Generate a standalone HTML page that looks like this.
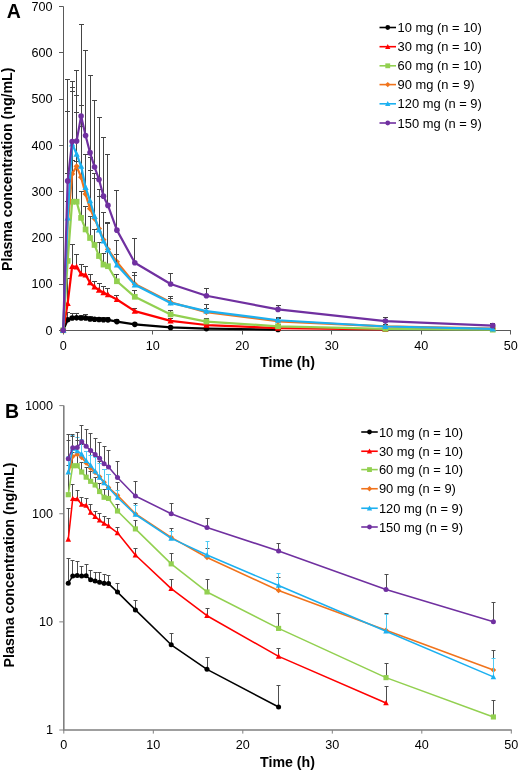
<!DOCTYPE html>
<html><head><meta charset="utf-8"><title>Plasma concentration</title>
<style>
html,body{margin:0;padding:0;background:#fff}
svg{display:block}
text{font-family:"Liberation Sans",Arial,sans-serif;fill:#000}
.tk{font-size:12.6px}
.lg{font-size:12.9px}
.ti{font-size:14.2px;font-weight:bold}
.pl{font-size:19.5px;font-weight:bold}
</style></head><body>
<svg width="520" height="771" viewBox="0 0 520 771">
<rect width="520" height="771" fill="#fff"/>
<path d="M63.5 6.5V330.5H511" stroke="#595959" stroke-width="1" fill="none"/>
<path d="M59 330.5H63.5" stroke="#595959" stroke-width="1"/>
<text x="52.5" y="334.70" text-anchor="end" class="tk">0</text>
<path d="M59 284.5H63.5" stroke="#595959" stroke-width="1"/>
<text x="52.5" y="288.44" text-anchor="end" class="tk">100</text>
<path d="M59 237.5H63.5" stroke="#595959" stroke-width="1"/>
<text x="52.5" y="242.18" text-anchor="end" class="tk">200</text>
<path d="M59 191.5H63.5" stroke="#595959" stroke-width="1"/>
<text x="52.5" y="195.92" text-anchor="end" class="tk">300</text>
<path d="M59 145.5H63.5" stroke="#595959" stroke-width="1"/>
<text x="52.5" y="149.66" text-anchor="end" class="tk">400</text>
<path d="M59 99.5H63.5" stroke="#595959" stroke-width="1"/>
<text x="52.5" y="103.40" text-anchor="end" class="tk">500</text>
<path d="M59 52.5H63.5" stroke="#595959" stroke-width="1"/>
<text x="52.5" y="57.14" text-anchor="end" class="tk">600</text>
<path d="M59 6.5H63.5" stroke="#595959" stroke-width="1"/>
<text x="52.5" y="10.88" text-anchor="end" class="tk">700</text>
<path d="M63.5 330.5V334.5" stroke="#595959" stroke-width="1"/>
<text x="63.20" y="350" text-anchor="middle" class="tk">0</text>
<path d="M152.5 330.5V334.5" stroke="#595959" stroke-width="1"/>
<text x="152.70" y="350" text-anchor="middle" class="tk">10</text>
<path d="M242.5 330.5V334.5" stroke="#595959" stroke-width="1"/>
<text x="242.20" y="350" text-anchor="middle" class="tk">20</text>
<path d="M331.5 330.5V334.5" stroke="#595959" stroke-width="1"/>
<text x="331.70" y="350" text-anchor="middle" class="tk">30</text>
<path d="M421.5 330.5V334.5" stroke="#595959" stroke-width="1"/>
<text x="421.20" y="350" text-anchor="middle" class="tk">40</text>
<path d="M510.5 330.5V334.5" stroke="#595959" stroke-width="1"/>
<text x="510.70" y="350" text-anchor="middle" class="tk">50</text>
<path d="M67.5 319.75V312.5M65.0 312.5H70.0" stroke="#454545" stroke-width="1" fill="none"/>
<path d="M72.5 318.04V313.5M70.0 313.5H75.0" stroke="#454545" stroke-width="1" fill="none"/>
<path d="M76.5 317.86V313.5M74.0 313.5H79.0" stroke="#454545" stroke-width="1" fill="none"/>
<path d="M81.5 318.04V315.5M79.0 315.5H84.0" stroke="#454545" stroke-width="1" fill="none"/>
<path d="M85.5 317.95V314.5M83.0 314.5H88.0" stroke="#454545" stroke-width="1" fill="none"/>
<path d="M90.5 318.97V316.5M88.0 316.5H93.0" stroke="#454545" stroke-width="1" fill="none"/>
<path d="M94.5 319.24V317.5M92.0 317.5H97.0" stroke="#454545" stroke-width="1" fill="none"/>
<path d="M99.5 319.57V317.5M97.0 317.5H102.0" stroke="#454545" stroke-width="1" fill="none"/>
<path d="M103.5 319.80V317.5M101.0 317.5H106.0" stroke="#454545" stroke-width="1" fill="none"/>
<path d="M107.5 319.85V317.5M105.0 317.5H110.0" stroke="#454545" stroke-width="1" fill="none"/>
<path d="M116.5 321.58V319.5M114.0 319.5H119.0" stroke="#454545" stroke-width="1" fill="none"/>
<path d="M134.5 324.33V323.5M132.0 323.5H137.0" stroke="#454545" stroke-width="1" fill="none"/>
<path d="M170.5 327.46V326.5M168.0 326.5H173.0" stroke="#454545" stroke-width="1" fill="none"/>
<polyline points="63.20,330.30 67.67,319.75 72.15,318.04 76.62,317.86 81.10,318.04 85.58,317.95 90.05,318.97 94.53,319.24 99.00,319.57 103.47,319.80 107.95,319.85 116.90,321.58 134.80,324.33 170.60,327.46 206.40,328.62 278.00,329.55" fill="none" stroke="#000000" stroke-width="2.2" stroke-linejoin="round"/>
<circle cx="63.20" cy="330.30" r="2.80" fill="#000000"/>
<circle cx="67.67" cy="319.75" r="2.80" fill="#000000"/>
<circle cx="72.15" cy="318.04" r="2.80" fill="#000000"/>
<circle cx="76.62" cy="317.86" r="2.80" fill="#000000"/>
<circle cx="81.10" cy="318.04" r="2.80" fill="#000000"/>
<circle cx="85.58" cy="317.95" r="2.80" fill="#000000"/>
<circle cx="90.05" cy="318.97" r="2.80" fill="#000000"/>
<circle cx="94.53" cy="319.24" r="2.80" fill="#000000"/>
<circle cx="99.00" cy="319.57" r="2.80" fill="#000000"/>
<circle cx="103.47" cy="319.80" r="2.80" fill="#000000"/>
<circle cx="107.95" cy="319.85" r="2.80" fill="#000000"/>
<circle cx="116.90" cy="321.58" r="2.80" fill="#000000"/>
<circle cx="134.80" cy="324.33" r="2.80" fill="#000000"/>
<circle cx="170.60" cy="327.46" r="2.80" fill="#000000"/>
<circle cx="206.40" cy="328.62" r="2.80" fill="#000000"/>
<circle cx="278.00" cy="329.55" r="2.80" fill="#000000"/>
<path d="M67.5 303.47V278.5M65.0 278.5H70.0" stroke="#454545" stroke-width="1" fill="none"/>
<path d="M72.5 266.46V244.5M70.0 244.5H75.0" stroke="#454545" stroke-width="1" fill="none"/>
<path d="M76.5 266.92V254.5M74.0 254.5H79.0" stroke="#454545" stroke-width="1" fill="none"/>
<path d="M81.5 273.86V264.5M79.0 264.5H84.0" stroke="#454545" stroke-width="1" fill="none"/>
<path d="M85.5 275.02V266.5M83.0 266.5H88.0" stroke="#454545" stroke-width="1" fill="none"/>
<path d="M90.5 282.65V274.5M88.0 274.5H93.0" stroke="#454545" stroke-width="1" fill="none"/>
<path d="M94.5 286.82V281.5M92.0 281.5H97.0" stroke="#454545" stroke-width="1" fill="none"/>
<path d="M99.5 290.05V283.5M97.0 283.5H102.0" stroke="#454545" stroke-width="1" fill="none"/>
<path d="M103.5 292.60V286.5M101.0 286.5H106.0" stroke="#454545" stroke-width="1" fill="none"/>
<path d="M107.5 294.68V288.5M105.0 288.5H110.0" stroke="#454545" stroke-width="1" fill="none"/>
<path d="M116.5 299.49V295.5M114.0 295.5H119.0" stroke="#454545" stroke-width="1" fill="none"/>
<path d="M134.5 311.10V308.5M132.0 308.5H137.0" stroke="#454545" stroke-width="1" fill="none"/>
<path d="M170.5 320.91V318.5M168.0 318.5H173.0" stroke="#454545" stroke-width="1" fill="none"/>
<path d="M206.5 325.03V324.5M204.0 324.5H209.0" stroke="#454545" stroke-width="1" fill="none"/>
<polyline points="63.20,330.30 67.67,303.47 72.15,266.46 76.62,266.92 81.10,273.86 85.58,275.02 90.05,282.65 94.53,286.82 99.00,290.05 103.47,292.60 107.95,294.68 116.90,299.49 134.80,311.10 170.60,320.91 206.40,325.03 278.00,328.08 385.40,329.48" fill="none" stroke="#ff0000" stroke-width="2.2" stroke-linejoin="round"/>
<path d="M63.20 327.00L66.30 332.90L60.10 332.90Z" fill="#ff0000"/>
<path d="M67.67 300.17L70.77 306.07L64.58 306.07Z" fill="#ff0000"/>
<path d="M72.15 263.16L75.25 269.06L69.05 269.06Z" fill="#ff0000"/>
<path d="M76.62 263.62L79.72 269.52L73.53 269.52Z" fill="#ff0000"/>
<path d="M81.10 270.56L84.20 276.46L78.00 276.46Z" fill="#ff0000"/>
<path d="M85.58 271.72L88.67 277.62L82.48 277.62Z" fill="#ff0000"/>
<path d="M90.05 279.35L93.15 285.25L86.95 285.25Z" fill="#ff0000"/>
<path d="M94.53 283.52L97.62 289.42L91.43 289.42Z" fill="#ff0000"/>
<path d="M99.00 286.75L102.10 292.65L95.90 292.65Z" fill="#ff0000"/>
<path d="M103.47 289.30L106.57 295.20L100.38 295.20Z" fill="#ff0000"/>
<path d="M107.95 291.38L111.05 297.28L104.85 297.28Z" fill="#ff0000"/>
<path d="M116.90 296.19L120.00 302.09L113.80 302.09Z" fill="#ff0000"/>
<path d="M134.80 307.80L137.90 313.70L131.70 313.70Z" fill="#ff0000"/>
<path d="M170.60 317.61L173.70 323.51L167.50 323.51Z" fill="#ff0000"/>
<path d="M206.40 321.73L209.50 327.63L203.30 327.63Z" fill="#ff0000"/>
<path d="M278.00 324.78L281.10 330.68L274.90 330.68Z" fill="#ff0000"/>
<path d="M385.40 326.18L388.50 332.08L382.30 332.08Z" fill="#ff0000"/>
<path d="M67.5 260.91V201.5M65.0 201.5H70.0" stroke="#454545" stroke-width="1" fill="none"/>
<path d="M72.5 201.70V160.5M70.0 160.5H75.0" stroke="#454545" stroke-width="1" fill="none"/>
<path d="M76.5 201.70V161.5M74.0 161.5H79.0" stroke="#454545" stroke-width="1" fill="none"/>
<path d="M81.5 217.89V191.5M79.0 191.5H84.0" stroke="#454545" stroke-width="1" fill="none"/>
<path d="M85.5 229.45V206.5M83.0 206.5H88.0" stroke="#454545" stroke-width="1" fill="none"/>
<path d="M90.5 238.01V216.5M88.0 216.5H93.0" stroke="#454545" stroke-width="1" fill="none"/>
<path d="M94.5 244.95V229.5M92.0 229.5H97.0" stroke="#454545" stroke-width="1" fill="none"/>
<path d="M99.5 256.05V242.5M97.0 242.5H102.0" stroke="#454545" stroke-width="1" fill="none"/>
<path d="M103.5 264.61V253.5M101.0 253.5H106.0" stroke="#454545" stroke-width="1" fill="none"/>
<path d="M107.5 266.23V251.5M105.0 251.5H110.0" stroke="#454545" stroke-width="1" fill="none"/>
<path d="M116.5 281.26V274.5M114.0 274.5H119.0" stroke="#454545" stroke-width="1" fill="none"/>
<path d="M134.5 296.81V290.5M132.0 290.5H137.0" stroke="#454545" stroke-width="1" fill="none"/>
<path d="M170.5 314.39V310.5M168.0 310.5H173.0" stroke="#454545" stroke-width="1" fill="none"/>
<path d="M206.5 321.56V318.5M204.0 318.5H209.0" stroke="#454545" stroke-width="1" fill="none"/>
<path d="M278.5 326.28V324.5M276.0 324.5H281.0" stroke="#454545" stroke-width="1" fill="none"/>
<polyline points="63.20,330.30 67.67,260.91 72.15,201.70 76.62,201.70 81.10,217.89 85.58,229.45 90.05,238.01 94.53,244.95 99.00,256.05 103.47,264.61 107.95,266.23 116.90,281.26 134.80,296.81 170.60,314.39 206.40,321.56 278.00,326.28 385.40,328.89 492.80,329.69" fill="none" stroke="#92d050" stroke-width="2.2" stroke-linejoin="round"/>
<rect x="60.35" y="327.45" width="5.70" height="5.70" fill="#92d050"/>
<rect x="64.83" y="258.06" width="5.70" height="5.70" fill="#92d050"/>
<rect x="69.30" y="198.85" width="5.70" height="5.70" fill="#92d050"/>
<rect x="73.78" y="198.85" width="5.70" height="5.70" fill="#92d050"/>
<rect x="78.25" y="215.04" width="5.70" height="5.70" fill="#92d050"/>
<rect x="82.73" y="226.60" width="5.70" height="5.70" fill="#92d050"/>
<rect x="87.20" y="235.16" width="5.70" height="5.70" fill="#92d050"/>
<rect x="91.68" y="242.10" width="5.70" height="5.70" fill="#92d050"/>
<rect x="96.15" y="253.20" width="5.70" height="5.70" fill="#92d050"/>
<rect x="100.62" y="261.76" width="5.70" height="5.70" fill="#92d050"/>
<rect x="105.10" y="263.38" width="5.70" height="5.70" fill="#92d050"/>
<rect x="114.05" y="278.41" width="5.70" height="5.70" fill="#92d050"/>
<rect x="131.95" y="293.96" width="5.70" height="5.70" fill="#92d050"/>
<rect x="167.75" y="311.54" width="5.70" height="5.70" fill="#92d050"/>
<rect x="203.55" y="318.71" width="5.70" height="5.70" fill="#92d050"/>
<rect x="275.15" y="323.43" width="5.70" height="5.70" fill="#92d050"/>
<rect x="382.55" y="326.04" width="5.70" height="5.70" fill="#92d050"/>
<rect x="489.95" y="326.84" width="5.70" height="5.70" fill="#92d050"/>
<path d="M67.5 224.83V111.5M65.0 111.5H70.0" stroke="#454545" stroke-width="1" fill="none"/>
<path d="M72.5 173.94V91.5M70.0 91.5H75.0" stroke="#454545" stroke-width="1" fill="none"/>
<path d="M76.5 166.31V112.5M74.0 112.5H79.0" stroke="#454545" stroke-width="1" fill="none"/>
<path d="M81.5 177.18V126.5M79.0 126.5H84.0" stroke="#454545" stroke-width="1" fill="none"/>
<path d="M85.5 194.06V154.5M83.0 154.5H88.0" stroke="#454545" stroke-width="1" fill="none"/>
<path d="M90.5 208.64V157.5M88.0 157.5H93.0" stroke="#454545" stroke-width="1" fill="none"/>
<path d="M94.5 218.58V173.5M92.0 173.5H97.0" stroke="#454545" stroke-width="1" fill="none"/>
<path d="M99.5 228.53V189.5M97.0 189.5H102.0" stroke="#454545" stroke-width="1" fill="none"/>
<path d="M103.5 239.63V212.5M101.0 212.5H106.0" stroke="#454545" stroke-width="1" fill="none"/>
<path d="M107.5 249.35V222.5M105.0 222.5H110.0" stroke="#454545" stroke-width="1" fill="none"/>
<path d="M116.5 261.84V240.5M114.0 240.5H119.0" stroke="#454545" stroke-width="1" fill="none"/>
<path d="M134.5 284.04V272.5M132.0 272.5H137.0" stroke="#454545" stroke-width="1" fill="none"/>
<path d="M170.5 302.31V296.5M168.0 296.5H173.0" stroke="#454545" stroke-width="1" fill="none"/>
<path d="M206.5 312.07V308.5M204.0 308.5H209.0" stroke="#454545" stroke-width="1" fill="none"/>
<path d="M278.5 321.28V318.5M276.0 318.5H281.0" stroke="#454545" stroke-width="1" fill="none"/>
<path d="M385.5 326.44V324.5M383.0 324.5H388.0" stroke="#454545" stroke-width="1" fill="none"/>
<path d="M492.5 328.64V327.5M490.0 327.5H495.0" stroke="#454545" stroke-width="1" fill="none"/>
<polyline points="63.20,330.30 67.67,224.83 72.15,173.94 76.62,166.31 81.10,177.18 85.58,194.06 90.05,208.64 94.53,218.58 99.00,228.53 103.47,239.63 107.95,249.35 116.90,261.84 134.80,284.04 170.60,302.31 206.40,312.07 278.00,321.28 385.40,326.44 492.80,328.64" fill="none" stroke="#f0731c" stroke-width="2.2" stroke-linejoin="round"/>
<path d="M63.20 327.20L66.30 330.30L63.20 333.40L60.10 330.30Z" fill="#f0731c"/>
<path d="M72.15 170.84L75.25 173.94L72.15 177.04L69.05 173.94Z" fill="#f0731c"/>
<path d="M76.62 163.21L79.72 166.31L76.62 169.41L73.53 166.31Z" fill="#f0731c"/>
<path d="M81.10 174.08L84.20 177.18L81.10 180.28L78.00 177.18Z" fill="#f0731c"/>
<path d="M85.58 190.96L88.67 194.06L85.58 197.16L82.48 194.06Z" fill="#f0731c"/>
<path d="M90.05 205.54L93.15 208.64L90.05 211.74L86.95 208.64Z" fill="#f0731c"/>
<path d="M94.53 215.48L97.62 218.58L94.53 221.68L91.43 218.58Z" fill="#f0731c"/>
<path d="M99.00 225.43L102.10 228.53L99.00 231.63L95.90 228.53Z" fill="#f0731c"/>
<path d="M103.47 236.53L106.57 239.63L103.47 242.73L100.38 239.63Z" fill="#f0731c"/>
<path d="M107.95 246.25L111.05 249.35L107.95 252.45L104.85 249.35Z" fill="#f0731c"/>
<path d="M116.90 258.74L120.00 261.84L116.90 264.94L113.80 261.84Z" fill="#f0731c"/>
<path d="M134.80 280.94L137.90 284.04L134.80 287.14L131.70 284.04Z" fill="#f0731c"/>
<path d="M170.60 299.21L173.70 302.31L170.60 305.41L167.50 302.31Z" fill="#f0731c"/>
<path d="M206.40 308.97L209.50 312.07L206.40 315.17L203.30 312.07Z" fill="#f0731c"/>
<path d="M278.00 318.18L281.10 321.28L278.00 324.38L274.90 321.28Z" fill="#f0731c"/>
<path d="M385.40 323.34L388.50 326.44L385.40 329.54L382.30 326.44Z" fill="#f0731c"/>
<path d="M492.80 325.54L495.90 328.64L492.80 331.74L489.70 328.64Z" fill="#f0731c"/>
<path d="M67.5 217.89V173.5M65.0 173.5H70.0" stroke="#454545" stroke-width="1" fill="none"/>
<path d="M72.5 143.87V87.5M70.0 87.5H75.0" stroke="#454545" stroke-width="1" fill="none"/>
<path d="M76.5 154.05V95.5M74.0 95.5H79.0" stroke="#454545" stroke-width="1" fill="none"/>
<path d="M81.5 166.08V105.5M79.0 105.5H84.0" stroke="#454545" stroke-width="1" fill="none"/>
<path d="M85.5 187.36V154.5M83.0 154.5H88.0" stroke="#454545" stroke-width="1" fill="none"/>
<path d="M90.5 200.77V170.5M88.0 170.5H93.0" stroke="#454545" stroke-width="1" fill="none"/>
<path d="M94.5 216.04V178.5M92.0 178.5H97.0" stroke="#454545" stroke-width="1" fill="none"/>
<path d="M99.5 229.92V196.5M97.0 196.5H102.0" stroke="#454545" stroke-width="1" fill="none"/>
<path d="M103.5 241.02V212.5M101.0 212.5H106.0" stroke="#454545" stroke-width="1" fill="none"/>
<path d="M107.5 249.81V223.5M105.0 223.5H110.0" stroke="#454545" stroke-width="1" fill="none"/>
<path d="M116.5 264.93V254.5M114.0 254.5H119.0" stroke="#454545" stroke-width="1" fill="none"/>
<path d="M134.5 284.78V275.5M132.0 275.5H137.0" stroke="#454545" stroke-width="1" fill="none"/>
<path d="M170.5 302.91V298.5M168.0 298.5H173.0" stroke="#454545" stroke-width="1" fill="none"/>
<path d="M206.5 311.10V304.5M204.0 304.5H209.0" stroke="#454545" stroke-width="1" fill="none"/>
<path d="M278.5 320.26V317.5M276.0 317.5H281.0" stroke="#454545" stroke-width="1" fill="none"/>
<path d="M385.5 326.51V324.5M383.0 324.5H388.0" stroke="#454545" stroke-width="1" fill="none"/>
<path d="M492.5 328.87V328.5M490.0 328.5H495.0" stroke="#454545" stroke-width="1" fill="none"/>
<polyline points="63.20,330.30 67.67,217.89 72.15,143.87 76.62,154.05 81.10,166.08 85.58,187.36 90.05,200.77 94.53,216.04 99.00,229.92 103.47,241.02 107.95,249.81 116.90,264.93 134.80,284.78 170.60,302.91 206.40,311.10 278.00,320.26 385.40,326.51 492.80,328.87" fill="none" stroke="#1cb0f0" stroke-width="2.2" stroke-linejoin="round"/>
<path d="M63.20 327.00L66.30 332.90L60.10 332.90Z" fill="#1cb0f0"/>
<path d="M67.67 214.59L70.77 220.49L64.58 220.49Z" fill="#1cb0f0"/>
<path d="M72.15 140.57L75.25 146.47L69.05 146.47Z" fill="#1cb0f0"/>
<path d="M76.62 150.75L79.72 156.65L73.53 156.65Z" fill="#1cb0f0"/>
<path d="M81.10 162.78L84.20 168.68L78.00 168.68Z" fill="#1cb0f0"/>
<path d="M85.58 184.06L88.67 189.96L82.48 189.96Z" fill="#1cb0f0"/>
<path d="M90.05 197.47L93.15 203.37L86.95 203.37Z" fill="#1cb0f0"/>
<path d="M94.53 212.74L97.62 218.64L91.43 218.64Z" fill="#1cb0f0"/>
<path d="M99.00 226.62L102.10 232.52L95.90 232.52Z" fill="#1cb0f0"/>
<path d="M103.47 237.72L106.57 243.62L100.38 243.62Z" fill="#1cb0f0"/>
<path d="M107.95 246.51L111.05 252.41L104.85 252.41Z" fill="#1cb0f0"/>
<path d="M116.90 261.63L120.00 267.53L113.80 267.53Z" fill="#1cb0f0"/>
<path d="M134.80 281.48L137.90 287.38L131.70 287.38Z" fill="#1cb0f0"/>
<path d="M170.60 299.61L173.70 305.51L167.50 305.51Z" fill="#1cb0f0"/>
<path d="M206.40 307.80L209.50 313.70L203.30 313.70Z" fill="#1cb0f0"/>
<path d="M278.00 316.96L281.10 322.86L274.90 322.86Z" fill="#1cb0f0"/>
<path d="M385.40 323.21L388.50 329.11L382.30 329.11Z" fill="#1cb0f0"/>
<path d="M492.80 325.57L495.90 331.47L489.70 331.47Z" fill="#1cb0f0"/>
<path d="M67.5 180.88V79.5M65.0 79.5H70.0" stroke="#454545" stroke-width="1" fill="none"/>
<path d="M72.5 141.56V81.5M70.0 81.5H75.0" stroke="#454545" stroke-width="1" fill="none"/>
<path d="M76.5 141.10V70.5M74.0 70.5H79.0" stroke="#454545" stroke-width="1" fill="none"/>
<path d="M81.5 116.12V24.5M79.0 24.5H84.0" stroke="#454545" stroke-width="1" fill="none"/>
<path d="M85.5 135.55V50.5M83.0 50.5H88.0" stroke="#454545" stroke-width="1" fill="none"/>
<path d="M90.5 152.66V75.5M88.0 75.5H93.0" stroke="#454545" stroke-width="1" fill="none"/>
<path d="M94.5 167.00V100.5M92.0 100.5H97.0" stroke="#454545" stroke-width="1" fill="none"/>
<path d="M99.5 179.49V117.5M97.0 117.5H102.0" stroke="#454545" stroke-width="1" fill="none"/>
<path d="M103.5 196.15V137.5M101.0 137.5H106.0" stroke="#454545" stroke-width="1" fill="none"/>
<path d="M107.5 205.40V154.5M105.0 154.5H110.0" stroke="#454545" stroke-width="1" fill="none"/>
<path d="M116.5 230.15V190.5M114.0 190.5H119.0" stroke="#454545" stroke-width="1" fill="none"/>
<path d="M134.5 262.76V238.5M132.0 238.5H137.0" stroke="#454545" stroke-width="1" fill="none"/>
<path d="M170.5 284.04V273.5M168.0 273.5H173.0" stroke="#454545" stroke-width="1" fill="none"/>
<path d="M206.5 295.74V288.5M204.0 288.5H209.0" stroke="#454545" stroke-width="1" fill="none"/>
<path d="M278.5 309.39V305.5M276.0 305.5H281.0" stroke="#454545" stroke-width="1" fill="none"/>
<path d="M385.5 321.09V317.5M383.0 317.5H388.0" stroke="#454545" stroke-width="1" fill="none"/>
<path d="M492.5 325.66V323.5M490.0 323.5H495.0" stroke="#454545" stroke-width="1" fill="none"/>
<polyline points="63.20,330.30 67.67,180.88 72.15,141.56 76.62,141.10 81.10,116.12 85.58,135.55 90.05,152.66 94.53,167.00 99.00,179.49 103.47,196.15 107.95,205.40 116.90,230.15 134.80,262.76 170.60,284.04 206.40,295.74 278.00,309.39 385.40,321.09 492.80,325.66" fill="none" stroke="#7030a0" stroke-width="2.2" stroke-linejoin="round"/>
<circle cx="63.20" cy="330.30" r="2.80" fill="#7030a0"/>
<circle cx="67.67" cy="180.88" r="2.80" fill="#7030a0"/>
<circle cx="72.15" cy="141.56" r="2.80" fill="#7030a0"/>
<circle cx="76.62" cy="141.10" r="2.80" fill="#7030a0"/>
<circle cx="81.10" cy="116.12" r="2.80" fill="#7030a0"/>
<circle cx="85.58" cy="135.55" r="2.80" fill="#7030a0"/>
<circle cx="90.05" cy="152.66" r="2.80" fill="#7030a0"/>
<circle cx="94.53" cy="167.00" r="2.80" fill="#7030a0"/>
<circle cx="99.00" cy="179.49" r="2.80" fill="#7030a0"/>
<circle cx="103.47" cy="196.15" r="2.80" fill="#7030a0"/>
<circle cx="107.95" cy="205.40" r="2.80" fill="#7030a0"/>
<circle cx="116.90" cy="230.15" r="2.80" fill="#7030a0"/>
<circle cx="134.80" cy="262.76" r="2.80" fill="#7030a0"/>
<circle cx="170.60" cy="284.04" r="2.80" fill="#7030a0"/>
<circle cx="206.40" cy="295.74" r="2.80" fill="#7030a0"/>
<circle cx="278.00" cy="309.39" r="2.80" fill="#7030a0"/>
<circle cx="385.40" cy="321.09" r="2.80" fill="#7030a0"/>
<circle cx="492.80" cy="325.66" r="2.80" fill="#7030a0"/>
<path d="M63.8 405.6V730H511.7" stroke="#808080" stroke-width="1.6" fill="none"/>
<path d="M59.3 730.00H63.8" stroke="#808080" stroke-width="1"/>
<text x="53" y="734.40" text-anchor="end" class="tk">1</text>
<path d="M59.3 621.87H63.8" stroke="#808080" stroke-width="1"/>
<text x="53" y="626.27" text-anchor="end" class="tk">10</text>
<path d="M59.3 513.74H63.8" stroke="#808080" stroke-width="1"/>
<text x="53" y="518.14" text-anchor="end" class="tk">100</text>
<path d="M59.3 405.61H63.8" stroke="#808080" stroke-width="1"/>
<text x="53" y="410.01" text-anchor="end" class="tk">1000</text>
<path d="M63.80 730V733.6" stroke="#808080" stroke-width="1"/>
<text x="63.80" y="749" text-anchor="middle" class="tk">0</text>
<path d="M153.30 730V733.6" stroke="#808080" stroke-width="1"/>
<text x="153.30" y="749" text-anchor="middle" class="tk">10</text>
<path d="M242.80 730V733.6" stroke="#808080" stroke-width="1"/>
<text x="242.80" y="749" text-anchor="middle" class="tk">20</text>
<path d="M332.30 730V733.6" stroke="#808080" stroke-width="1"/>
<text x="332.30" y="749" text-anchor="middle" class="tk">30</text>
<path d="M421.80 730V733.6" stroke="#808080" stroke-width="1"/>
<text x="421.80" y="749" text-anchor="middle" class="tk">40</text>
<path d="M511.30 730V733.6" stroke="#808080" stroke-width="1"/>
<text x="511.30" y="749" text-anchor="middle" class="tk">50</text>
<path d="M68.5 583.17V558.5M66.5 558.5H70.5" stroke="#4d4d4d" stroke-width="1" fill="none"/>
<path d="M72.5 576.10V560.5M70.5 560.5H74.5" stroke="#4d4d4d" stroke-width="1" fill="none"/>
<path d="M77.5 575.40V561.5M75.5 561.5H79.5" stroke="#4d4d4d" stroke-width="1" fill="none"/>
<path d="M81.5 576.10V566.5M79.5 566.5H83.5" stroke="#4d4d4d" stroke-width="1" fill="none"/>
<path d="M86.5 575.75V564.5M84.5 564.5H88.5" stroke="#4d4d4d" stroke-width="1" fill="none"/>
<path d="M90.5 579.79V570.5M88.5 570.5H92.5" stroke="#4d4d4d" stroke-width="1" fill="none"/>
<path d="M95.5 580.95V572.5M93.5 572.5H97.5" stroke="#4d4d4d" stroke-width="1" fill="none"/>
<path d="M99.5 582.35V572.5M97.5 572.5H101.5" stroke="#4d4d4d" stroke-width="1" fill="none"/>
<path d="M104.5 583.37V574.5M102.5 574.5H106.5" stroke="#4d4d4d" stroke-width="1" fill="none"/>
<path d="M108.5 583.58V575.5M106.5 575.5H110.5" stroke="#4d4d4d" stroke-width="1" fill="none"/>
<path d="M117.5 592.10V583.5M115.5 583.5H119.5" stroke="#4d4d4d" stroke-width="1" fill="none"/>
<path d="M135.5 609.91V600.5M133.5 600.5H137.5" stroke="#4d4d4d" stroke-width="1" fill="none"/>
<path d="M171.5 644.78V633.5M169.5 633.5H173.5" stroke="#4d4d4d" stroke-width="1" fill="none"/>
<path d="M207.5 669.33V657.5M205.5 657.5H209.5" stroke="#4d4d4d" stroke-width="1" fill="none"/>
<path d="M278.5 707.06V685.5M276.5 685.5H280.5" stroke="#4d4d4d" stroke-width="1" fill="none"/>
<polyline points="68.27,583.17 72.75,576.10 77.22,575.40 81.70,576.10 86.17,575.75 90.65,579.79 95.12,580.95 99.60,582.35 104.07,583.37 108.55,583.58 117.50,592.10 135.40,609.91 171.20,644.78 207.00,669.33 278.60,707.06" fill="none" stroke="#000000" stroke-width="1.55" stroke-linejoin="round"/>
<circle cx="68.27" cy="583.17" r="2.52" fill="#000000"/>
<circle cx="72.75" cy="576.10" r="2.52" fill="#000000"/>
<circle cx="77.22" cy="575.40" r="2.52" fill="#000000"/>
<circle cx="81.70" cy="576.10" r="2.52" fill="#000000"/>
<circle cx="86.17" cy="575.75" r="2.52" fill="#000000"/>
<circle cx="90.65" cy="579.79" r="2.52" fill="#000000"/>
<circle cx="95.12" cy="580.95" r="2.52" fill="#000000"/>
<circle cx="99.60" cy="582.35" r="2.52" fill="#000000"/>
<circle cx="104.07" cy="583.37" r="2.52" fill="#000000"/>
<circle cx="108.55" cy="583.58" r="2.52" fill="#000000"/>
<circle cx="117.50" cy="592.10" r="2.52" fill="#000000"/>
<circle cx="135.40" cy="609.91" r="2.52" fill="#000000"/>
<circle cx="171.20" cy="644.78" r="2.52" fill="#000000"/>
<circle cx="207.00" cy="669.33" r="2.52" fill="#000000"/>
<circle cx="278.60" cy="707.06" r="2.52" fill="#000000"/>
<path d="M68.5 539.32V508.5M66.5 508.5H70.5" stroke="#4d4d4d" stroke-width="1" fill="none"/>
<path d="M72.5 498.61V484.5M70.5 484.5H74.5" stroke="#4d4d4d" stroke-width="1" fill="none"/>
<path d="M77.5 498.96V490.5M75.5 490.5H79.5" stroke="#4d4d4d" stroke-width="1" fill="none"/>
<path d="M81.5 504.40V497.5M79.5 497.5H83.5" stroke="#4d4d4d" stroke-width="1" fill="none"/>
<path d="M86.5 505.37V498.5M84.5 498.5H88.5" stroke="#4d4d4d" stroke-width="1" fill="none"/>
<path d="M90.5 512.35V504.5M88.5 504.5H92.5" stroke="#4d4d4d" stroke-width="1" fill="none"/>
<path d="M95.5 516.65V511.5M93.5 511.5H97.5" stroke="#4d4d4d" stroke-width="1" fill="none"/>
<path d="M99.5 520.28V513.5M97.5 513.5H101.5" stroke="#4d4d4d" stroke-width="1" fill="none"/>
<path d="M104.5 523.35V516.5M102.5 516.5H106.5" stroke="#4d4d4d" stroke-width="1" fill="none"/>
<path d="M108.5 526.01V518.5M106.5 518.5H110.5" stroke="#4d4d4d" stroke-width="1" fill="none"/>
<path d="M117.5 532.83V527.5M115.5 527.5H119.5" stroke="#4d4d4d" stroke-width="1" fill="none"/>
<path d="M135.5 555.04V548.5M133.5 548.5H137.5" stroke="#4d4d4d" stroke-width="1" fill="none"/>
<path d="M171.5 588.62V579.5M169.5 579.5H173.5" stroke="#4d4d4d" stroke-width="1" fill="none"/>
<path d="M207.5 615.72V608.5M205.5 608.5H209.5" stroke="#4d4d4d" stroke-width="1" fill="none"/>
<path d="M278.5 656.34V648.5M276.5 648.5H280.5" stroke="#4d4d4d" stroke-width="1" fill="none"/>
<path d="M386.5 702.92V686.5M384.5 686.5H388.5" stroke="#4d4d4d" stroke-width="1" fill="none"/>
<polyline points="68.27,539.32 72.75,498.61 77.22,498.96 81.70,504.40 86.17,505.37 90.65,512.35 95.12,516.65 99.60,520.28 104.07,523.35 108.55,526.01 117.50,532.83 135.40,555.04 171.20,588.62 207.00,615.72 278.60,656.34 386.00,702.92" fill="none" stroke="#ff0000" stroke-width="1.55" stroke-linejoin="round"/>
<path d="M68.27 536.35L71.06 541.66L65.48 541.66Z" fill="#ff0000"/>
<path d="M72.75 495.64L75.54 500.95L69.96 500.95Z" fill="#ff0000"/>
<path d="M77.22 495.99L80.02 501.30L74.43 501.30Z" fill="#ff0000"/>
<path d="M81.70 501.43L84.49 506.74L78.91 506.74Z" fill="#ff0000"/>
<path d="M86.17 502.40L88.97 507.71L83.38 507.71Z" fill="#ff0000"/>
<path d="M90.65 509.38L93.44 514.69L87.86 514.69Z" fill="#ff0000"/>
<path d="M95.12 513.68L97.92 518.99L92.33 518.99Z" fill="#ff0000"/>
<path d="M99.60 517.31L102.39 522.62L96.81 522.62Z" fill="#ff0000"/>
<path d="M104.07 520.38L106.86 525.69L101.28 525.69Z" fill="#ff0000"/>
<path d="M108.55 523.04L111.34 528.35L105.76 528.35Z" fill="#ff0000"/>
<path d="M117.50 529.86L120.29 535.17L114.71 535.17Z" fill="#ff0000"/>
<path d="M135.40 552.07L138.19 557.38L132.61 557.38Z" fill="#ff0000"/>
<path d="M171.20 585.65L173.99 590.96L168.41 590.96Z" fill="#ff0000"/>
<path d="M207.00 612.75L209.79 618.06L204.21 618.06Z" fill="#ff0000"/>
<path d="M278.60 653.37L281.39 658.68L275.81 658.68Z" fill="#ff0000"/>
<path d="M386.00 699.95L388.79 705.26L383.21 705.26Z" fill="#ff0000"/>
<path d="M68.5 494.70V465.5M66.5 465.5H70.5" stroke="#4d4d4d" stroke-width="1" fill="none"/>
<path d="M72.5 465.73V452.5M70.5 452.5H74.5" stroke="#4d4d4d" stroke-width="1" fill="none"/>
<path d="M77.5 465.73V452.5M75.5 452.5H79.5" stroke="#4d4d4d" stroke-width="1" fill="none"/>
<path d="M81.5 472.04V462.5M79.5 462.5H83.5" stroke="#4d4d4d" stroke-width="1" fill="none"/>
<path d="M86.5 477.14V467.5M84.5 467.5H88.5" stroke="#4d4d4d" stroke-width="1" fill="none"/>
<path d="M90.5 481.31V471.5M88.5 471.5H92.5" stroke="#4d4d4d" stroke-width="1" fill="none"/>
<path d="M95.5 484.98V477.5M93.5 477.5H97.5" stroke="#4d4d4d" stroke-width="1" fill="none"/>
<path d="M99.5 491.52V483.5M97.5 483.5H101.5" stroke="#4d4d4d" stroke-width="1" fill="none"/>
<path d="M104.5 497.27V489.5M102.5 489.5H106.5" stroke="#4d4d4d" stroke-width="1" fill="none"/>
<path d="M108.5 498.45V488.5M106.5 488.5H110.5" stroke="#4d4d4d" stroke-width="1" fill="none"/>
<path d="M117.5 511.00V504.5M115.5 504.5H119.5" stroke="#4d4d4d" stroke-width="1" fill="none"/>
<path d="M135.5 528.91V520.5M133.5 520.5H137.5" stroke="#4d4d4d" stroke-width="1" fill="none"/>
<path d="M171.5 563.85V553.5M169.5 553.5H173.5" stroke="#4d4d4d" stroke-width="1" fill="none"/>
<path d="M207.5 591.98V579.5M205.5 579.5H209.5" stroke="#4d4d4d" stroke-width="1" fill="none"/>
<path d="M278.5 628.41V613.5M276.5 613.5H280.5" stroke="#4d4d4d" stroke-width="1" fill="none"/>
<path d="M386.5 677.63V663.5M384.5 663.5H388.5" stroke="#4d4d4d" stroke-width="1" fill="none"/>
<path d="M493.5 716.96V700.5M491.5 700.5H495.5" stroke="#4d4d4d" stroke-width="1" fill="none"/>
<polyline points="68.27,494.70 72.75,465.73 77.22,465.73 81.70,472.04 86.17,477.14 90.65,481.31 95.12,484.98 99.60,491.52 104.07,497.27 108.55,498.45 117.50,511.00 135.40,528.91 171.20,563.85 207.00,591.98 278.60,628.41 386.00,677.63 493.40,716.96" fill="none" stroke="#92d050" stroke-width="1.55" stroke-linejoin="round"/>
<rect x="65.71" y="492.13" width="5.13" height="5.13" fill="#92d050"/>
<rect x="70.19" y="463.16" width="5.13" height="5.13" fill="#92d050"/>
<rect x="74.66" y="463.16" width="5.13" height="5.13" fill="#92d050"/>
<rect x="79.13" y="469.48" width="5.13" height="5.13" fill="#92d050"/>
<rect x="83.61" y="474.58" width="5.13" height="5.13" fill="#92d050"/>
<rect x="88.08" y="478.74" width="5.13" height="5.13" fill="#92d050"/>
<rect x="92.56" y="482.41" width="5.13" height="5.13" fill="#92d050"/>
<rect x="97.03" y="488.96" width="5.13" height="5.13" fill="#92d050"/>
<rect x="101.51" y="494.71" width="5.13" height="5.13" fill="#92d050"/>
<rect x="105.98" y="495.88" width="5.13" height="5.13" fill="#92d050"/>
<rect x="114.94" y="508.44" width="5.13" height="5.13" fill="#92d050"/>
<rect x="132.83" y="526.34" width="5.13" height="5.13" fill="#92d050"/>
<rect x="168.63" y="561.29" width="5.13" height="5.13" fill="#92d050"/>
<rect x="204.44" y="589.41" width="5.13" height="5.13" fill="#92d050"/>
<rect x="276.03" y="625.84" width="5.13" height="5.13" fill="#92d050"/>
<rect x="383.44" y="675.07" width="5.13" height="5.13" fill="#92d050"/>
<rect x="490.83" y="714.40" width="5.13" height="5.13" fill="#92d050"/>
<path d="M68.5 475.04V440.5M66.5 440.5H70.5" stroke="#4d4d4d" stroke-width="1" fill="none"/>
<path d="M72.5 456.55V436.5M70.5 436.5H74.5" stroke="#4d4d4d" stroke-width="1" fill="none"/>
<path d="M77.5 454.31V440.5M75.5 440.5H79.5" stroke="#4d4d4d" stroke-width="1" fill="none"/>
<path d="M81.5 457.53V444.5M79.5 444.5H83.5" stroke="#4d4d4d" stroke-width="1" fill="none"/>
<path d="M86.5 463.02V451.5M84.5 451.5H88.5" stroke="#4d4d4d" stroke-width="1" fill="none"/>
<path d="M90.5 468.33V451.5M88.5 451.5H92.5" stroke="#4d4d4d" stroke-width="1" fill="none"/>
<path d="M95.5 472.34V456.5M93.5 456.5H97.5" stroke="#4d4d4d" stroke-width="1" fill="none"/>
<path d="M99.5 476.71V461.5M97.5 461.5H101.5" stroke="#4d4d4d" stroke-width="1" fill="none"/>
<path d="M104.5 482.14V469.5M102.5 469.5H106.5" stroke="#4d4d4d" stroke-width="1" fill="none"/>
<path d="M108.5 487.46V474.5M106.5 474.5H110.5" stroke="#4d4d4d" stroke-width="1" fill="none"/>
<path d="M117.5 495.33V482.5M115.5 482.5H119.5" stroke="#4d4d4d" stroke-width="1" fill="none"/>
<path d="M135.5 513.74V503.5M133.5 503.5H137.5" stroke="#4d4d4d" stroke-width="1" fill="none"/>
<path d="M171.5 537.34V528.5M169.5 528.5H173.5" stroke="#4d4d4d" stroke-width="1" fill="none"/>
<path d="M207.5 557.48V548.5M205.5 548.5H209.5" stroke="#4d4d4d" stroke-width="1" fill="none"/>
<path d="M278.5 590.51V577.5M276.5 577.5H280.5" stroke="#4d4d4d" stroke-width="1" fill="none"/>
<path d="M386.5 630.34V613.5M384.5 613.5H388.5" stroke="#4d4d4d" stroke-width="1" fill="none"/>
<path d="M493.5 669.98V650.5M491.5 650.5H495.5" stroke="#4d4d4d" stroke-width="1" fill="none"/>
<polyline points="68.27,475.04 72.75,456.55 77.22,454.31 81.70,457.53 86.17,463.02 90.65,468.33 95.12,472.34 99.60,476.71 104.07,482.14 108.55,487.46 117.50,495.33 135.40,513.74 171.20,537.34 207.00,557.48 278.60,590.51 386.00,630.34 493.40,669.98" fill="none" stroke="#f0731c" stroke-width="1.55" stroke-linejoin="round"/>
<path d="M72.75 453.76L75.54 456.55L72.75 459.34L69.96 456.55Z" fill="#f0731c"/>
<path d="M77.22 451.52L80.02 454.31L77.22 457.10L74.43 454.31Z" fill="#f0731c"/>
<path d="M81.70 454.74L84.49 457.53L81.70 460.32L78.91 457.53Z" fill="#f0731c"/>
<path d="M86.17 460.23L88.97 463.02L86.17 465.81L83.38 463.02Z" fill="#f0731c"/>
<path d="M90.65 465.54L93.44 468.33L90.65 471.12L87.86 468.33Z" fill="#f0731c"/>
<path d="M95.12 469.55L97.92 472.34L95.12 475.13L92.33 472.34Z" fill="#f0731c"/>
<path d="M99.60 473.92L102.39 476.71L99.60 479.50L96.81 476.71Z" fill="#f0731c"/>
<path d="M104.07 479.35L106.86 482.14L104.07 484.93L101.28 482.14Z" fill="#f0731c"/>
<path d="M108.55 484.67L111.34 487.46L108.55 490.25L105.76 487.46Z" fill="#f0731c"/>
<path d="M117.50 492.54L120.29 495.33L117.50 498.12L114.71 495.33Z" fill="#f0731c"/>
<path d="M135.40 510.95L138.19 513.74L135.40 516.53L132.61 513.74Z" fill="#f0731c"/>
<path d="M171.20 534.55L173.99 537.34L171.20 540.13L168.41 537.34Z" fill="#f0731c"/>
<path d="M207.00 554.69L209.79 557.48L207.00 560.27L204.21 557.48Z" fill="#f0731c"/>
<path d="M278.60 587.72L281.39 590.51L278.60 593.30L275.81 590.51Z" fill="#f0731c"/>
<path d="M386.00 627.55L388.79 630.34L386.00 633.13L383.21 630.34Z" fill="#f0731c"/>
<path d="M493.40 667.19L496.19 669.98L493.40 672.77L490.61 669.98Z" fill="#f0731c"/>
<path d="M68.5 472.04V456.5M66.5 456.5H70.5" stroke="#4fcbf5" stroke-width="1" fill="none"/>
<path d="M72.5 448.29V435.5M70.5 435.5H74.5" stroke="#4fcbf5" stroke-width="1" fill="none"/>
<path d="M77.5 450.92V437.5M75.5 437.5H79.5" stroke="#4fcbf5" stroke-width="1" fill="none"/>
<path d="M81.5 454.24V439.5M79.5 439.5H83.5" stroke="#4fcbf5" stroke-width="1" fill="none"/>
<path d="M86.5 460.76V451.5M84.5 451.5H88.5" stroke="#4fcbf5" stroke-width="1" fill="none"/>
<path d="M90.5 465.39V455.5M88.5 455.5H92.5" stroke="#4fcbf5" stroke-width="1" fill="none"/>
<path d="M95.5 471.28V457.5M93.5 457.5H97.5" stroke="#4fcbf5" stroke-width="1" fill="none"/>
<path d="M99.5 477.36V463.5M97.5 463.5H101.5" stroke="#4fcbf5" stroke-width="1" fill="none"/>
<path d="M104.5 482.86V469.5M102.5 469.5H106.5" stroke="#4fcbf5" stroke-width="1" fill="none"/>
<path d="M108.5 487.73V474.5M106.5 474.5H110.5" stroke="#4fcbf5" stroke-width="1" fill="none"/>
<path d="M117.5 497.51V490.5M115.5 490.5H119.5" stroke="#4fcbf5" stroke-width="1" fill="none"/>
<path d="M135.5 514.50V505.5M133.5 505.5H137.5" stroke="#4fcbf5" stroke-width="1" fill="none"/>
<path d="M171.5 538.36V531.5M169.5 531.5H173.5" stroke="#4fcbf5" stroke-width="1" fill="none"/>
<path d="M207.5 555.04V541.5M205.5 541.5H209.5" stroke="#4fcbf5" stroke-width="1" fill="none"/>
<path d="M278.5 585.49V573.5M276.5 573.5H280.5" stroke="#4fcbf5" stroke-width="1" fill="none"/>
<path d="M386.5 631.19V614.5M384.5 614.5H388.5" stroke="#4fcbf5" stroke-width="1" fill="none"/>
<path d="M493.5 676.87V658.5M491.5 658.5H495.5" stroke="#4fcbf5" stroke-width="1" fill="none"/>
<polyline points="68.27,472.04 72.75,448.29 77.22,450.92 81.70,454.24 86.17,460.76 90.65,465.39 95.12,471.28 99.60,477.36 104.07,482.86 108.55,487.73 117.50,497.51 135.40,514.50 171.20,538.36 207.00,555.04 278.60,585.49 386.00,631.19 493.40,676.87" fill="none" stroke="#1cb0f0" stroke-width="1.55" stroke-linejoin="round"/>
<path d="M68.27 469.07L71.06 474.38L65.48 474.38Z" fill="#1cb0f0"/>
<path d="M72.75 445.32L75.54 450.63L69.96 450.63Z" fill="#1cb0f0"/>
<path d="M77.22 447.95L80.02 453.26L74.43 453.26Z" fill="#1cb0f0"/>
<path d="M81.70 451.27L84.49 456.58L78.91 456.58Z" fill="#1cb0f0"/>
<path d="M86.17 457.79L88.97 463.10L83.38 463.10Z" fill="#1cb0f0"/>
<path d="M90.65 462.42L93.44 467.73L87.86 467.73Z" fill="#1cb0f0"/>
<path d="M95.12 468.31L97.92 473.62L92.33 473.62Z" fill="#1cb0f0"/>
<path d="M99.60 474.39L102.39 479.70L96.81 479.70Z" fill="#1cb0f0"/>
<path d="M104.07 479.89L106.86 485.20L101.28 485.20Z" fill="#1cb0f0"/>
<path d="M108.55 484.76L111.34 490.07L105.76 490.07Z" fill="#1cb0f0"/>
<path d="M117.50 494.54L120.29 499.85L114.71 499.85Z" fill="#1cb0f0"/>
<path d="M135.40 511.53L138.19 516.84L132.61 516.84Z" fill="#1cb0f0"/>
<path d="M171.20 535.39L173.99 540.70L168.41 540.70Z" fill="#1cb0f0"/>
<path d="M207.00 552.07L209.79 557.38L204.21 557.38Z" fill="#1cb0f0"/>
<path d="M278.60 582.52L281.39 587.83L275.81 587.83Z" fill="#1cb0f0"/>
<path d="M386.00 628.22L388.79 633.53L383.21 633.53Z" fill="#1cb0f0"/>
<path d="M493.40 673.90L496.19 679.21L490.61 679.21Z" fill="#1cb0f0"/>
<path d="M68.5 458.68V434.5M66.5 434.5H70.5" stroke="#4d4d4d" stroke-width="1" fill="none"/>
<path d="M72.5 447.71V434.5M70.5 434.5H74.5" stroke="#4d4d4d" stroke-width="1" fill="none"/>
<path d="M77.5 447.59V432.5M75.5 432.5H79.5" stroke="#4d4d4d" stroke-width="1" fill="none"/>
<path d="M81.5 441.77V425.5M79.5 425.5H83.5" stroke="#4d4d4d" stroke-width="1" fill="none"/>
<path d="M86.5 446.24V429.5M84.5 429.5H88.5" stroke="#4d4d4d" stroke-width="1" fill="none"/>
<path d="M90.5 450.56V433.5M88.5 433.5H92.5" stroke="#4d4d4d" stroke-width="1" fill="none"/>
<path d="M95.5 454.51V438.5M93.5 438.5H97.5" stroke="#4d4d4d" stroke-width="1" fill="none"/>
<path d="M99.5 458.25V442.5M97.5 442.5H101.5" stroke="#4d4d4d" stroke-width="1" fill="none"/>
<path d="M104.5 463.74V446.5M102.5 446.5H106.5" stroke="#4d4d4d" stroke-width="1" fill="none"/>
<path d="M108.5 467.10V450.5M106.5 450.5H110.5" stroke="#4d4d4d" stroke-width="1" fill="none"/>
<path d="M117.5 477.47V461.5M115.5 461.5H119.5" stroke="#4d4d4d" stroke-width="1" fill="none"/>
<path d="M135.5 495.97V481.5M133.5 481.5H137.5" stroke="#4d4d4d" stroke-width="1" fill="none"/>
<path d="M171.5 513.74V503.5M169.5 503.5H173.5" stroke="#4d4d4d" stroke-width="1" fill="none"/>
<path d="M207.5 527.44V518.5M205.5 518.5H209.5" stroke="#4d4d4d" stroke-width="1" fill="none"/>
<path d="M278.5 551.03V543.5M276.5 543.5H280.5" stroke="#4d4d4d" stroke-width="1" fill="none"/>
<path d="M386.5 589.56V574.5M384.5 574.5H388.5" stroke="#4d4d4d" stroke-width="1" fill="none"/>
<path d="M493.5 621.68V602.5M491.5 602.5H495.5" stroke="#4d4d4d" stroke-width="1" fill="none"/>
<polyline points="68.27,458.68 72.75,447.71 77.22,447.59 81.70,441.77 86.17,446.24 90.65,450.56 95.12,454.51 99.60,458.25 104.07,463.74 108.55,467.10 117.50,477.47 135.40,495.97 171.20,513.74 207.00,527.44 278.60,551.03 386.00,589.56 493.40,621.68" fill="none" stroke="#7030a0" stroke-width="1.55" stroke-linejoin="round"/>
<circle cx="68.27" cy="458.68" r="2.52" fill="#7030a0"/>
<circle cx="72.75" cy="447.71" r="2.52" fill="#7030a0"/>
<circle cx="77.22" cy="447.59" r="2.52" fill="#7030a0"/>
<circle cx="81.70" cy="441.77" r="2.52" fill="#7030a0"/>
<circle cx="86.17" cy="446.24" r="2.52" fill="#7030a0"/>
<circle cx="90.65" cy="450.56" r="2.52" fill="#7030a0"/>
<circle cx="95.12" cy="454.51" r="2.52" fill="#7030a0"/>
<circle cx="99.60" cy="458.25" r="2.52" fill="#7030a0"/>
<circle cx="104.07" cy="463.74" r="2.52" fill="#7030a0"/>
<circle cx="108.55" cy="467.10" r="2.52" fill="#7030a0"/>
<circle cx="117.50" cy="477.47" r="2.52" fill="#7030a0"/>
<circle cx="135.40" cy="495.97" r="2.52" fill="#7030a0"/>
<circle cx="171.20" cy="513.74" r="2.52" fill="#7030a0"/>
<circle cx="207.00" cy="527.44" r="2.52" fill="#7030a0"/>
<circle cx="278.60" cy="551.03" r="2.52" fill="#7030a0"/>
<circle cx="386.00" cy="589.56" r="2.52" fill="#7030a0"/>
<circle cx="493.40" cy="621.68" r="2.52" fill="#7030a0"/>
<path d="M379.5 27.5H396.0" stroke="#000000" stroke-width="1.6"/>
<circle cx="387.75" cy="27.50" r="2.38" fill="#000000"/>
<text x="397.6" y="32.0" class="lg">10 mg (n = 10)</text>
<path d="M379.5 46.7H396.0" stroke="#ff0000" stroke-width="1.6"/>
<path d="M387.75 43.90L390.38 48.91L385.12 48.91Z" fill="#ff0000"/>
<text x="397.6" y="51.2" class="lg">30 mg (n = 10)</text>
<path d="M379.5 65.8H396.0" stroke="#92d050" stroke-width="1.6"/>
<rect x="385.33" y="63.38" width="4.84" height="4.84" fill="#92d050"/>
<text x="397.6" y="70.3" class="lg">60 mg (n = 10)</text>
<path d="M379.5 84.6H396.0" stroke="#f0731c" stroke-width="1.6"/>
<path d="M387.75 81.96L390.38 84.60L387.75 87.23L385.12 84.60Z" fill="#f0731c"/>
<text x="397.6" y="89.1" class="lg">90 mg (n = 9)</text>
<path d="M379.5 103.8H396.0" stroke="#1cb0f0" stroke-width="1.6"/>
<path d="M387.75 101.00L390.38 106.01L385.12 106.01Z" fill="#1cb0f0"/>
<text x="397.6" y="108.3" class="lg">120 mg (n = 9)</text>
<path d="M379.5 123H396.0" stroke="#7030a0" stroke-width="1.6"/>
<circle cx="387.75" cy="123.00" r="2.38" fill="#7030a0"/>
<text x="397.6" y="127.5" class="lg">150 mg (n = 9)</text>
<path d="M361.25 432H377.75" stroke="#000000" stroke-width="1.6"/>
<circle cx="369.50" cy="432.00" r="2.38" fill="#000000"/>
<text x="378.9" y="436.5" class="lg">10 mg (n = 10)</text>
<path d="M361.25 451.25H377.75" stroke="#ff0000" stroke-width="1.6"/>
<path d="M369.50 448.44L372.13 453.46L366.87 453.46Z" fill="#ff0000"/>
<text x="378.9" y="455.75" class="lg">30 mg (n = 10)</text>
<path d="M361.25 469.6H377.75" stroke="#92d050" stroke-width="1.6"/>
<rect x="367.08" y="467.18" width="4.84" height="4.84" fill="#92d050"/>
<text x="378.9" y="474.1" class="lg">60 mg (n = 10)</text>
<path d="M361.25 488.75H377.75" stroke="#f0731c" stroke-width="1.6"/>
<path d="M369.50 486.12L372.13 488.75L369.50 491.38L366.87 488.75Z" fill="#f0731c"/>
<text x="378.9" y="493.25" class="lg">90 mg (n = 9)</text>
<path d="M361.25 508.25H377.75" stroke="#1cb0f0" stroke-width="1.6"/>
<path d="M369.50 505.44L372.13 510.46L366.87 510.46Z" fill="#1cb0f0"/>
<text x="378.9" y="512.75" class="lg">120 mg (n = 9)</text>
<path d="M361.25 527H377.75" stroke="#7030a0" stroke-width="1.6"/>
<circle cx="369.50" cy="527.00" r="2.38" fill="#7030a0"/>
<text x="378.9" y="531.5" class="lg">150 mg (n = 9)</text>
<text x="6.8" y="17.8" class="pl">A</text>
<text x="5" y="417.8" class="pl">B</text>
<text x="287.5" y="367" text-anchor="middle" class="ti">Time (h)</text>
<text x="287.5" y="767" text-anchor="middle" class="ti">Time (h)</text>
<text transform="translate(12,169.2) rotate(-90)" text-anchor="middle" class="ti">Plasma concentration (ng/mL)</text>
<text transform="translate(13.6,565) rotate(-90)" text-anchor="middle" class="ti" style="font-size:14.3px">Plasma concentration (ng/mL)</text>
</svg>
</body></html>
